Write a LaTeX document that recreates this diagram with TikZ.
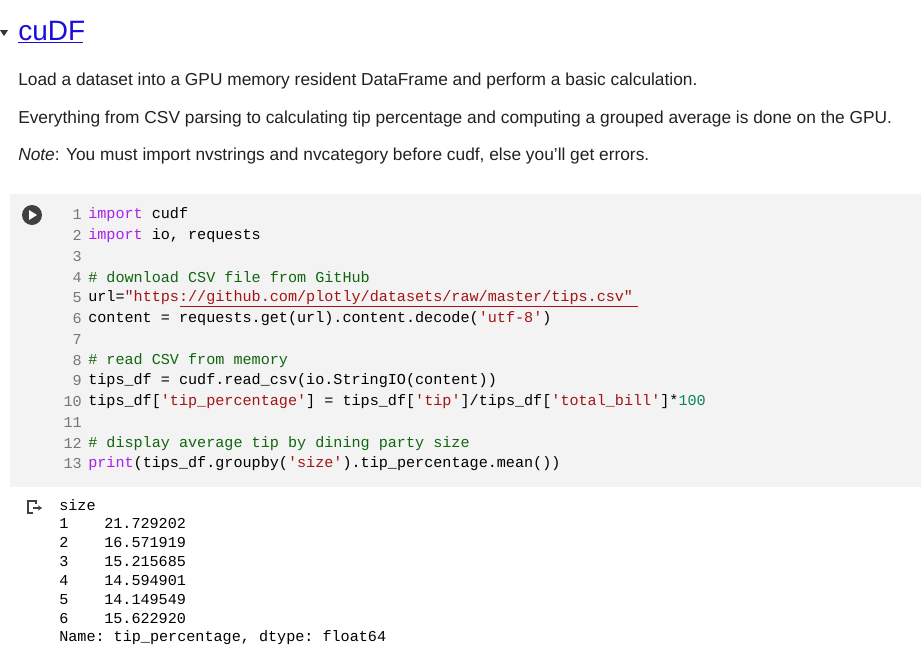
\documentclass[tikz,border=0pt]{standalone}
\usepackage{fontspec}
\usetikzlibrary{arrows.meta}
\setmainfont{Liberation Sans}
\setmonofont{Liberation Mono}
\definecolor{kw}{HTML}{AA22EE}
\definecolor{cm}{HTML}{116611}
\definecolor{st}{HTML}{A31515}
\definecolor{nm}{HTML}{098658}
\definecolor{ln}{HTML}{777777}
\definecolor{lnk}{HTML}{1A0DDB}
\definecolor{codebg}{HTML}{F3F3F3}
\newcommand{\K}[1]{\textcolor{kw}{#1}}
\newcommand{\C}[1]{\textcolor{cm}{#1}}
\newcommand{\St}[1]{\textcolor{st}{#1}}
\newcommand{\N}[1]{\textcolor{nm}{#1}}
\begin{document}
\begin{tikzpicture}[x=0.75pt,y=-0.75pt,
  body/.style={anchor=west,inner sep=0pt,font=\fontsize{13}{15}\selectfont,text=black!87},
  code/.style={anchor=west,inner sep=0pt,font=\ttfamily\fontsize{11.35}{13}\selectfont},
  lnum/.style={anchor=east,inner sep=0pt,font=\ttfamily\fontsize{11.35}{13}\selectfont,text=ln}]
\useasboundingbox[fill=white] (0,0) rectangle (921,671);
\fill[black!80] (0,30) -- (8,30) -- (4,36) -- cycle;
\node[anchor=base west,inner sep=0pt,text=lnk,font=\fontsize{21}{24}\selectfont] (h) at (18,40) {cuDF};
\draw[lnk,line width=0.9pt] (h.south west)++(0,2) coordinate(u1) -- ++(65,0) coordinate(u2);
\node[body] (t1) at (18,81) {Load a dataset into a GPU memory resident DataFrame and perform a basic calculation.};
\node[body] (t2) at (18,119) {Everything from CSV parsing to calculating tip percentage and computing a grouped average is done on the GPU.};
\node[body] (t3) at (18,156) {\textit{Note}: You must import nvstrings and nvcategory before cudf, else you'll get errors.};
\fill[codebg] (10,194) rectangle (921,487);
\fill[black!75] (32,215) circle (10);
\fill[white] (29,210) -- (29,220) -- (37,215) -- cycle;
\foreach \i in {1,...,13}{\node[lnum] (n\i) at (82,{215+20.75*(\i-1)}) {\i};}
\node[code] (c1) at (88,215) {\K{import} cudf};
\node[code] (c2) at (88,235.75) {\K{import} io, requests};
\node[code] (c4) at (88,277.25) {\C{\# download CSV file from GitHub}};
\node[code] (c5) at (88,298) {url=\St{"https://github.com/plotly/datasets/raw/master/tips.csv"}};
\draw[st,line width=0.6pt] (180,306.5) -- (638,306.5);
\node[code] (c6) at (88,318.75) {content = requests.get(url).content.decode(\St{'utf-8'})};
\node[code] (c8) at (88,360.25) {\C{\# read CSV from memory}};
\node[code] (c9) at (88,381) {tips\_df = cudf.read\_csv(io.StringIO(content))};
\node[code] (c10) at (88,401.75) {tips\_df[\St{'tip\_percentage'}] = tips\_df[\St{'tip'}]/tips\_df[\St{'total\_bill'}]*\N{100}};
\node[code] (c12) at (88,443.25) {\C{\# display average tip by dining party size}};
\node[code] (c13) at (88,464) {\K{print}(tips\_df.groupby(\St{'size'}).tip\_percentage.mean())};
% output icon
\draw[black!75,line width=1.2pt] (33,513) -- (28,513) -- (28,501) -- (36,501) -- (36,504);
\draw[black!75,line width=1pt,-{Stealth[length=3pt,width=4pt]}] (33,508) -- (42,508);
\node[code] (o0) at (59,505) {size};
\foreach \i/\v in {1/21.729202,2/16.571919,3/15.215685,4/14.594901,5/14.149549,6/15.622920}{
  \node[code] (k\i) at (59,{505+18.9*\i}) {\i};
  \node[code] (v\i) at (104,{505+18.9*\i}) {\v};}
\node[code] (o7) at (59,637.3) {Name: tip\_percentage, dtype: float64};
\end{tikzpicture}
\end{document}
